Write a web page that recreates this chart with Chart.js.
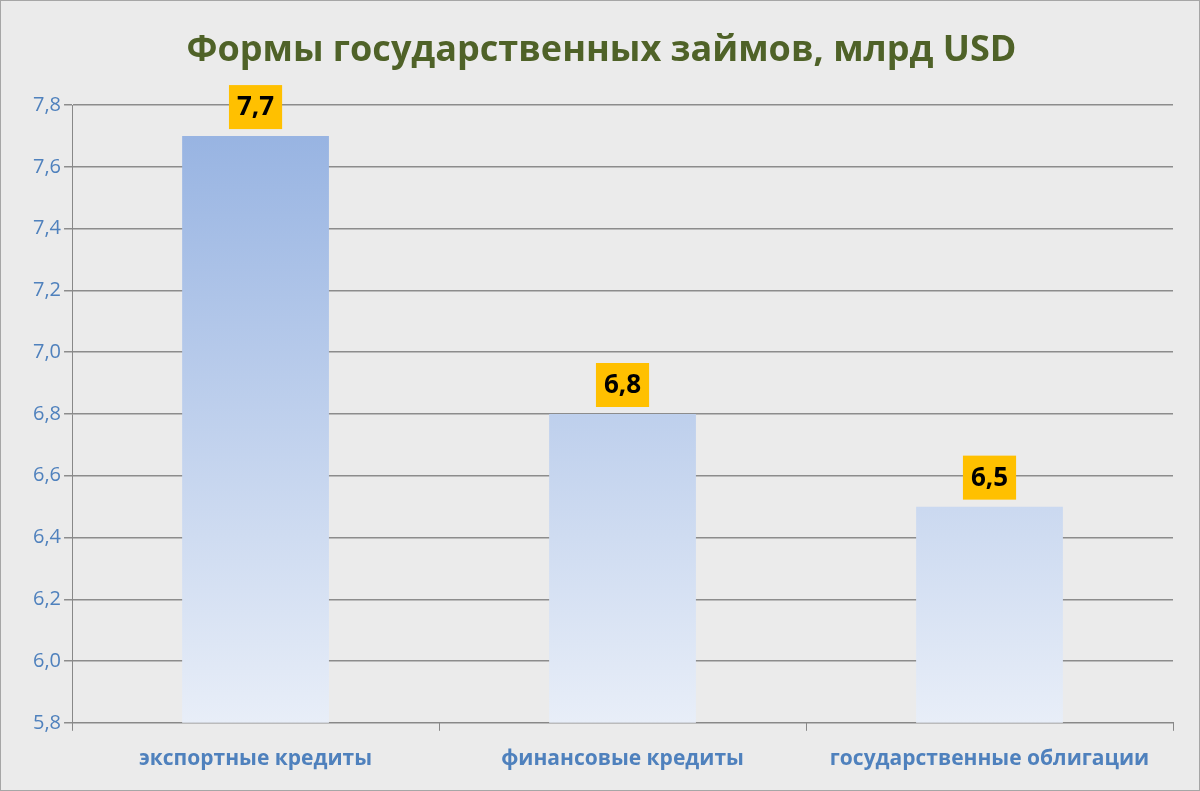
<!DOCTYPE html>
<html><head><meta charset="utf-8">
<script src="https://cdn.jsdelivr.net/npm/chart.js@4/dist/chart.umd.min.js"></script>
<style>
html,body{margin:0;padding:0;background:#ebebeb;}
#wrap{position:absolute;left:0;top:0;width:1198px;height:789px;border:1px solid #a6a6a6;}
</style></head>
<body><div id="wrap"><canvas id="c" width="1198" height="789"></canvas></div>
<script>
const categories = ['экспортные кредиты', 'финансовые кредиты', 'государственные облигации'];
const values = [7.7, 6.8, 6.5];
const titleText = 'Формы государственных займов, млрд USD';

const labelPlugin = {
    id: 'valueBoxes',
    afterDatasetsDraw(chart) {
        const ctx = chart.ctx;
        const meta = chart.getDatasetMeta(0);
        ctx.save();
        ctx.font = 'bold 26px "Open Sans", sans-serif';
        ctx.textAlign = 'center';
        ctx.textBaseline = 'middle';
        meta.data.forEach(function (bar, i) {
            const txt = values[i].toFixed(1).replace('.', ',');
            const w = ctx.measureText(txt).width + 16;
            const h = 44;
            const cy = bar.y - 7 - h / 2;
            ctx.fillStyle = '#ffc000';
            ctx.fillRect(bar.x - w / 2, cy - h / 2, w, h);
            ctx.fillStyle = '#000';
            ctx.fillText(txt, bar.x, cy + 1);
        });
        ctx.restore();
    }
};

const plotBg = {
    id: 'plotBg',
    beforeDraw(chart) {
        const ctx = chart.ctx;
        ctx.save();
        ctx.fillStyle = '#ebebeb';
        ctx.fillRect(0, 0, chart.width, chart.height);
        ctx.restore();
    }
};

new Chart(document.getElementById('c'), {
    type: 'bar',
    data: {
        labels: categories,
        datasets: [{
            data: values,
            backgroundColor: function (c) {
                const a = c.chart.chartArea;
                if (!a) return '#9bb7e3';
                const g = c.chart.ctx.createLinearGradient(0, a.top + 30, 0, a.bottom);
                g.addColorStop(0, '#98b4e2');
                g.addColorStop(1, '#e8eef8');
                return g;
            },
            categoryPercentage: 1,
            barPercentage: 0.4
        }]
    },
    options: {
        responsive: false,
        animation: false,
        layout: { padding: { left: 29, right: 26, top: 0, bottom: 2 } },
        plugins: {
            legend: { display: false },
            tooltip: { enabled: false },
            title: {
                display: true, text: titleText, color: '#4f6228',
                font: { family: '"Open Sans", sans-serif', size: 36, weight: 'bold' },
                padding: { top: 28, bottom: 33 }
            }
        },
        scales: {
            x: {
                grid: { display: true, offset: true, drawOnChartArea: false, color: '#888', tickLength: 8 },
                border: { color: '#888' },
                ticks: { color: '#4f81bd', font: { family: '"Open Sans", sans-serif', size: 21, weight: 'bold' }, padding: 16 }
            },
            y: {
                min: 5.8, max: 7.8,
                grid: { color: '#8c8c8c', lineWidth: 1.5, tickLength: 8 },
                border: { color: '#888' },
                ticks: {
                    stepSize: 0.2, color: '#4f81bd',
                    font: { family: '"Open Sans", sans-serif', size: 20 },
                    callback: v => v.toFixed(1).replace('.', ',')
                }
            }
        }
    },
    plugins: [plotBg, labelPlugin]
});
</script></body></html>
